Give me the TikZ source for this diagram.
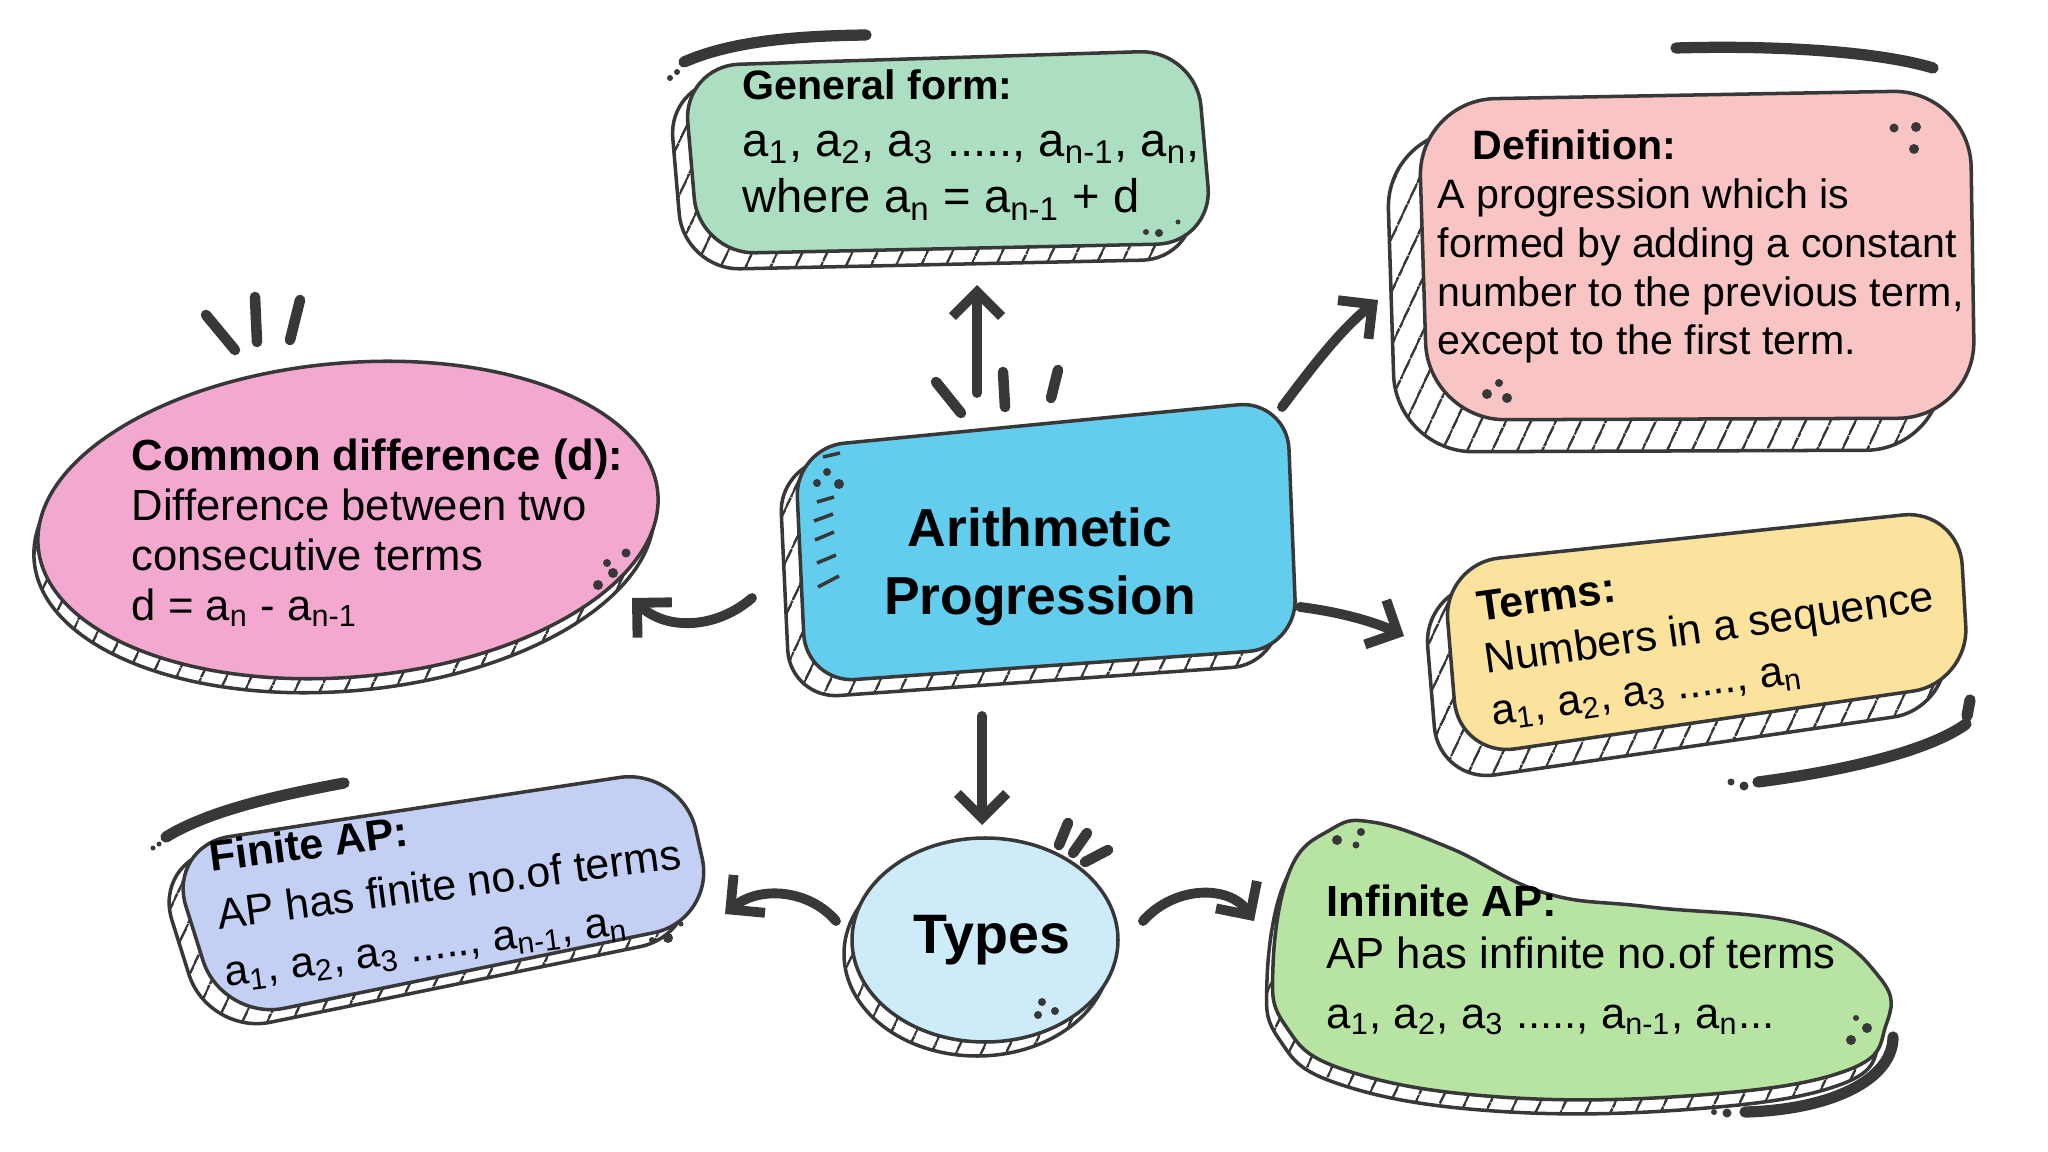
\documentclass[tikz,border=0pt]{standalone}
\usepackage{fontspec}
\setmainfont{Liberation Sans}
\usetikzlibrary{arrows.meta,patterns.meta}

\definecolor{ink}{HTML}{383838}
\definecolor{mint}{HTML}{ACDFC2}
\definecolor{blush}{HTML}{F9C4C4}
\definecolor{rose}{HTML}{F3A9CF}
\definecolor{sky}{HTML}{63CDEE}
\definecolor{butter}{HTML}{FBE39D}
\definecolor{lilac}{HTML}{C4CFF4}
\definecolor{ice}{HTML}{CDEBF8}
\definecolor{leaf}{HTML}{B7E3A3}

\newcommand{\term}[1]{a\textsubscript{#1}}

\begin{document}
\begin{tikzpicture}[x=0.01cm,y=-0.01cm,
    card/.style={draw=ink, line width=1pt},
    rim/.style={draw=ink, line width=1pt, pattern={Lines[angle=65,distance=6.5pt,line width=0.7pt]}, pattern color=ink},
    txt/.style={anchor=base west, inner sep=0pt, align=left},
    link/.style={draw=ink, line width=2.8pt, line cap=round, -{Straight Barb[length=7pt,width=14pt,line width=2.8pt]}},
    flick/.style={draw=ink, line width=3pt, line cap=round},
    swoosh/.style={draw=ink, line width=3.2pt, line cap=round},
    speck/.style={fill=ink}]
        \useasboundingbox (0,0) rectangle (2048,1152);

        \path[rim, shift={(-15,16)}, rounded corners=16pt] (683,66) -- (1196,50) -- (1213,243) -- (699,254) -- cycle;
        \path[card, fill=mint, rounded corners=16pt] (683,66) -- (1196,50) -- (1213,243) -- (699,254) -- cycle;
        \draw[swoosh] (684,62) .. controls (730,42) and (790,36) .. (866,35);
        \fill[speck] (670,78) circle (3) (677,72) circle (3);
        \fill[speck] (1146,232) circle (3) (1159,233) circle (4) (1178,222) circle (2.5);

        \path[rim, shift={(-32,32)}, rounded corners=22pt] (1418,100) -- (1970,90) -- (1975,418) -- (1428,420) -- cycle;
        \path[card, fill=blush, rounded corners=22pt] (1418,100) -- (1970,90) -- (1975,418) -- (1428,420) -- cycle;
        \draw[swoosh] (1676,48) .. controls (1780,45) and (1880,52) .. (1933,68);
        \fill[speck] (1894,128) circle (4.5) (1916,127) circle (5) (1914,149) circle (5);
        \fill[speck] (1499,383) circle (4) (1487,394) circle (5) (1507,398) circle (5);

        \path[rim] (344,534) ellipse [x radius=311, y radius=157, rotate=5];
        \path[card, fill=rose] (348,520) ellipse [x radius=311, y radius=157, rotate=5];
        \draw[flick] (206,315) -- (235,350);
        \draw[flick] (255,297) -- (257,342);
        \draw[flick] (300,300) -- (290,340);
        \fill[speck] (626,553) circle (4.5) (607,563) circle (4) (613,573) circle (5) (598,585) circle (5);

        \path[rim, shift={(-16,16)}, rounded corners=14pt] (795,448) -- (1287,400) -- (1297,648) -- (806,683) -- cycle;
        \path[card, fill=sky, rounded corners=14pt] (795,448) -- (1287,400) -- (1297,648) -- (806,683) -- cycle;
        \draw[ink, line width=1pt] (823,457) -- (840,453);
        \draw[ink, line width=1pt] (817,502) -- (834,497);
        \draw[ink, line width=1pt] (814,521) -- (833,514);
        \draw[ink, line width=1pt] (815,540) -- (834,532);
        \draw[ink, line width=1pt] (817,563) -- (836,555);
        \draw[ink, line width=1pt] (818,587) -- (839,576);
        \fill[speck] (827,472) circle (4) (817,483) circle (4) (839,484) circle (5);
        \draw[flick] (936,382) -- (961,413);
        \draw[flick] (1003,372) -- (1005,407);
        \draw[flick] (1058,370) -- (1051,398);

        \path[rim, shift={(-20,26)}, rounded corners=16pt] (1443,564) -- (1959,509) -- (1969,683) -- (1459,757) -- cycle;
        \path[card, fill=butter, rounded corners=16pt] (1443,564) -- (1959,509) -- (1969,683) -- (1459,757) -- cycle;
        \draw[swoosh] (1970,700) -- (1967,716);
        \draw[swoosh] (1758,782) .. controls (1850,770) and (1930,750) .. (1966,724);
        \fill[speck] (1731,782) circle (3.5) (1744,786) circle (4.5);

        \path[rim, shift={(-14,14)}, rounded corners=18pt] (167,846) -- (682,768) -- (716,920) -- (222,1021) -- cycle;
        \path[card, fill=lilac, rounded corners=18pt] (167,846) -- (682,768) -- (716,920) -- (222,1021) -- cycle;
        \draw[swoosh] (166,837) .. controls (210,810) and (280,795) .. (344,783);
        \fill[speck] (153,848) circle (2.5) (159,844) circle (2.5);
        \fill[speck] (652,940) circle (3) (668,938) circle (5) (681,924) circle (2.5);

        \path[rim] (977,954) ellipse [x radius=133, y radius=102];
        \path[card, fill=ice] (985,940) ellipse [x radius=133, y radius=102];
        \draw[flick] (1068,823) -- (1059,845);
        \draw[flick] (1087,833) -- (1073,853);
        \draw[flick] (1108,850) -- (1085,862);
        \fill[speck] (1042,1002) circle (4) (1038,1015) circle (4) (1055,1011) circle (4);

        \path[rim, shift={(-6,14)}] plot[smooth cycle, tension=0.7] coordinates {(1273,966) (1290,870) (1330,830) (1372,822) (1450,848) (1545,893) (1650,907) (1805,925) (1880,978) (1886,1025) (1848,1070) (1700,1095) (1500,1097) (1345,1070) (1285,1025)};
        \path[card, fill=leaf] plot[smooth cycle, tension=0.7] coordinates {(1273,966) (1290,870) (1330,830) (1372,822) (1450,848) (1545,893) (1650,907) (1805,925) (1880,978) (1886,1025) (1848,1070) (1700,1095) (1500,1097) (1345,1070) (1285,1025)};
        \fill[speck] (1337,840) circle (5) (1361,832) circle (4) (1356,845) circle (3.5);
        \fill[speck] (1856,1018) circle (3) (1867,1028) circle (5) (1851,1040) circle (5);
        \draw[swoosh] (1893,1037) .. controls (1893,1080) and (1830,1110) .. (1745,1112);
        \fill[speck] (1714,1112) circle (3) (1727,1113) circle (4.5);

        \node[txt, font=\fontsize{13.4pt}{16.2pt}\selectfont] (gform) at (742,213)
            {{\fontsize{11.7pt}{16.2pt}\selectfont\bfseries General form:}\\
             \term{1}, \term{2}, \term{3} ....., \term{n-1}, \term{n},\\
             where \term{n} = \term{n-1} + d};
        \node[txt, font=\fontsize{11.7pt}{13.9pt}\selectfont] (defn) at (1437,355)
            {\hspace*{10pt}\textbf{Definition:}\\
             A progression which is\\
             formed by adding a constant\\
             number to the previous term,\\
             except to the first term.};
        \node[txt, font=\fontsize{12.4pt}{14.2pt}\selectfont] (cdiff) at (131,620)
            {\textbf{Common difference (d):}\\
             Difference between two\\
             consecutive terms\\
             d = \term{n} - \term{n-1}};
        \node[anchor=base, inner sep=0pt, align=center, font=\fontsize{15.2pt}{19.3pt}\selectfont\bfseries] (apcore) at (1040,614)
            {Arithmetic\\Progression};
        \node[txt, rotate=8, font=\fontsize{12.2pt}{15pt}\selectfont] (terms) at (1493,726)
            {\textbf{Terms:}\\
             Numbers in a sequence\\
             \term{1}, \term{2}, \term{3} ....., \term{n}};
        \node[txt, rotate=7.5, font=\fontsize{12.2pt}{16.5pt}\selectfont] (finite) at (226,987)
            {\textbf{Finite AP:}\\
             AP has finite no.of terms\\
             \term{1}, \term{2}, \term{3} ....., \term{n-1}, \term{n}};
        \node[anchor=base, inner sep=0pt, font=\fontsize{15.8pt}{19pt}\selectfont\bfseries] (kinds) at (992,953) {Types};
        \node[txt, font=\fontsize{12.4pt}{14.8pt}\selectfont] (infin) at (1326,1028)
            {\textbf{Infinite AP:}\\
             AP has infinite no.of terms\\[2pt]
             \term{1}, \term{2}, \term{3} ....., \term{n-1}, \term{n}...};

        \coordinate (apcore-n) at (977,393);
        \coordinate (gform-s) at (977,285);
        \coordinate (apcore-ne) at (1282,407);
        \coordinate (defn-sw) at (1378,300);
        \coordinate (apcore-w) at (752,598);
        \coordinate (cdiff-e) at (632,598);
        \coordinate (apcore-e) at (1300,607);
        \coordinate (terms-w) at (1404,636);
        \coordinate (apcore-s) at (982,716);
        \coordinate (kinds-n) at (982,825);
        \coordinate (kinds-w) at (836,921);
        \coordinate (finite-e) at (725,914);
        \coordinate (kinds-e) at (1143,921);
        \coordinate (infin-w) at (1254,921);

        \draw[link] (apcore-n) -- (gform-s);
        \draw[link] (apcore-ne) .. controls (1310,370) and (1340,330) .. (defn-sw);
        \draw[link] (apcore-w) .. controls (715,630) and (665,630) .. (cdiff-e);
        \draw[link] (apcore-e) .. controls (1340,612) and (1375,622) .. (terms-w);
        \draw[link] (apcore-s) -- (kinds-n);
        \draw[link] (kinds-w) .. controls (810,890) and (760,885) .. (finite-e);
        \draw[link] (kinds-e) .. controls (1175,885) and (1230,885) .. (infin-w);
    \end{tikzpicture}
\end{document}
